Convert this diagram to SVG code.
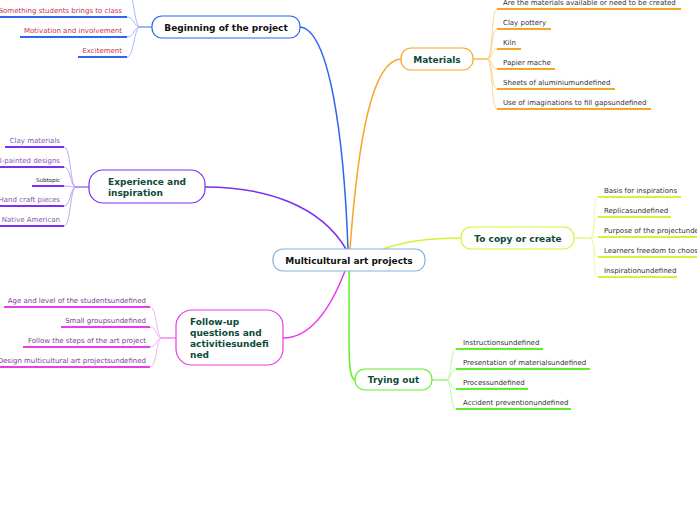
<svg xmlns="http://www.w3.org/2000/svg" width="697" height="520" viewBox="0 0 697 520">
<style>
.node{fill:#fff;stroke-width:1.2}
.lbl{font-family:"DejaVu Sans",Verdana,sans-serif;font-weight:bold;font-size:9px;fill:#0d4a3a}
.sub{font-family:"DejaVu Sans",Verdana,sans-serif;font-size:7px}
.ul{stroke-width:2;fill:none}
.br{stroke-width:0.8;fill:none}
.main{fill:none;stroke-width:1.5}
</style>
<rect width="697" height="520" fill="#fff"/>
<g id="connectors">
<path class="main" stroke="#2f66f0" d="M348 249 C344 140 330 30 300 27"/>
<path class="main" stroke="#f7a428" d="M350 249 C358 140 372 60 401 59"/>
<path class="main" stroke="#7a2ff5" d="M346 249 C320 205 265 187 205 187"/>
<path class="main" stroke="#d2f33a" d="M383 249 C405 241 430 238 461 238"/>
<path class="main" stroke="#e83de8" d="M345 271 C330 310 310 338 283 338"/>
<path class="main" stroke="#5ff02a" d="M349 271 C350 330 346 378 355 380"/>
</g>
<g id="central">
<rect class="node" x="273" y="249" width="152" height="22" rx="10" stroke="#7eb4e2"/>
<text class="lbl" x="349" y="263.5" text-anchor="middle" fill="#111" style="fill:#111">Multicultural art projects</text>
</g>
<g id="beginning">
<g stroke="#2f66f0">
<path class="br" stroke="#8eaaf7" d="M152 27 H140 C134 27 134 -10 127 -14"/>
<path class="br" stroke="#8eaaf7" d="M152 27 H140 C134 27 134 17 127 17"/>
<path class="br" stroke="#8eaaf7" d="M152 27 H140 C134 27 134 37 127 37"/>
<path class="br" stroke="#8eaaf7" d="M152 27 H140 C134 27 134 57 127 57"/>
<line class="ul" x1="0" y1="17" x2="127" y2="17"/>
<line class="ul" x1="20" y1="37" x2="127" y2="37"/>
<line class="ul" x1="78" y1="57" x2="127" y2="57"/>
</g>
<g class="sub" fill="#c8324c" text-anchor="end">
<text x="122" y="13">Something students brings to class</text>
<text x="122" y="33">Motivation and involvement</text>
<text x="122" y="53">Excitement</text>
</g>
<rect class="node" x="152" y="16" width="148" height="22" rx="10" stroke="#2f66f0"/>
<text class="lbl" x="226" y="30.5" text-anchor="middle" style="fill:#111">Beginning of the project</text>
</g>
<g id="materials">
<g stroke="#f7a428">
<path class="br" stroke="#fbc97a" d="M473 59 H487 C493 59 491 9 497 9"/>
<path class="br" stroke="#fbc97a" d="M473 59 H487 C493 59 491 29 497 29"/>
<path class="br" stroke="#fbc97a" d="M473 59 H487 C493 59 491 49 497 49"/>
<path class="br" stroke="#fbc97a" d="M473 59 H487 C493 59 491 69 497 69"/>
<path class="br" stroke="#fbc97a" d="M473 59 H487 C493 59 491 89 497 89"/>
<path class="br" stroke="#fbc97a" d="M473 59 H487 C493 59 491 109 497 109"/>
<line class="ul" x1="497" y1="9" x2="681" y2="9"/>
<line class="ul" x1="497" y1="29" x2="551" y2="29"/>
<line class="ul" x1="497" y1="49" x2="521" y2="49"/>
<line class="ul" x1="497" y1="69" x2="555" y2="69"/>
<line class="ul" x1="497" y1="89" x2="615" y2="89"/>
<line class="ul" x1="497" y1="109" x2="651" y2="109"/>
</g>
<g class="sub" fill="#333">
<text x="503" y="5">Are the materials available or need to be created</text>
<text x="503" y="25">Clay pottery</text>
<text x="503" y="45">Kiln</text>
<text x="503" y="65">Papier mache</text>
<text x="503" y="85">Sheets of aluminiumundefined</text>
<text x="503" y="105">Use of imaginations to fill gapsundefined</text>
</g>
<rect class="node" x="401" y="48" width="72" height="22" rx="10" stroke="#f7a428"/>
<text class="lbl" x="437" y="62.5" text-anchor="middle">Materials</text>
</g>
<g id="copy">
<g stroke="#d2f33a">
<path class="br" stroke="#e6f99a" d="M574 238 H590 C596 238 592 197 598 197"/>
<path class="br" stroke="#e6f99a" d="M574 238 H590 C596 238 592 217 598 217"/>
<path class="br" stroke="#e6f99a" d="M574 238 H590 C596 238 592 237 598 237"/>
<path class="br" stroke="#e6f99a" d="M574 238 H590 C596 238 592 257 598 257"/>
<path class="br" stroke="#e6f99a" d="M574 238 H590 C596 238 592 277 598 277"/>
<line class="ul" x1="598" y1="197" x2="681" y2="197"/>
<line class="ul" x1="598" y1="217" x2="671" y2="217"/>
<line class="ul" x1="598" y1="237" x2="697" y2="237"/>
<line class="ul" x1="598" y1="257" x2="697" y2="257"/>
<line class="ul" x1="598" y1="277" x2="677" y2="277"/>
</g>
<g class="sub" fill="#333">
<text x="604" y="193">Basis for inspirations</text>
<text x="604" y="213">Replicasundefined</text>
<text x="604" y="233">Purpose of the projectundefined</text>
<text x="604" y="253">Learners freedom to choose</text>
<text x="604" y="273">Inspirationundefined</text>
</g>
<rect class="node" x="461" y="227" width="113" height="22" rx="10" stroke="#d2f33a"/>
<text class="lbl" x="518" y="241.5" text-anchor="middle">To copy or create</text>
</g>
<g id="experience">
<g stroke="#7a2ff5">
<path class="br" stroke="#b08ef8" d="M89 187 H76 C70 187 71 147 64 147"/>
<path class="br" stroke="#b08ef8" d="M89 187 H76 C70 187 71 167 64 167"/>
<path class="br" stroke="#b08ef8" d="M89 187 H76 C70 187 71 186 64 186"/>
<path class="br" stroke="#b08ef8" d="M89 187 H76 C70 187 71 206 64 206"/>
<path class="br" stroke="#b08ef8" d="M89 187 H76 C70 187 71 226 64 226"/>
<line class="ul" x1="5" y1="147" x2="64" y2="147"/>
<line class="ul" x1="0" y1="167" x2="64" y2="167"/>
<line class="ul" x1="32" y1="186" x2="64" y2="186"/>
<line class="ul" x1="0" y1="206" x2="64" y2="206"/>
<line class="ul" x1="0" y1="226" x2="64" y2="226"/>
</g>
<g class="sub" fill="#8059b0" text-anchor="end">
<text x="60" y="143">Clay materials</text>
<text x="60" y="163">Well-painted designs</text>
<text x="60" y="182" style="font-size:5.5px;fill:#222">Subtopic</text>
<text x="60" y="202">Hand craft pieces</text>
<text x="60" y="222">Native American</text>
</g>
<rect class="node" x="89" y="170" width="116" height="33" rx="14" stroke="#7a2ff5"/>
<text class="lbl" x="108" y="185">Experience and</text>
<text class="lbl" x="108" y="196">inspiration</text>
</g>
<g id="followup">
<g stroke="#e83de8">
<path class="br" stroke="#f29af2" d="M176 338 H162 C156 338 157 307 150 307"/>
<path class="br" stroke="#f29af2" d="M176 338 H162 C156 338 157 327 150 327"/>
<path class="br" stroke="#f29af2" d="M176 338 H162 C156 338 157 347 150 347"/>
<path class="br" stroke="#f29af2" d="M176 338 H162 C156 338 157 367 150 367"/>
<line class="ul" x1="4" y1="307" x2="150" y2="307"/>
<line class="ul" x1="61" y1="327" x2="150" y2="327"/>
<line class="ul" x1="23" y1="347" x2="150" y2="347"/>
<line class="ul" x1="0" y1="367" x2="150" y2="367"/>
</g>
<g class="sub" fill="#7a3d92" text-anchor="end">
<text x="146" y="303">Age and level of the studentsundefined</text>
<text x="146" y="323">Small groupsundefined</text>
<text x="146" y="343">Follow the steps of the art project</text>
<text x="146" y="363">Design multicultural art projectsundefined</text>
</g>
<rect class="node" x="176" y="310" width="107" height="55" rx="16" stroke="#e83de8"/>
<text class="lbl" x="190" y="325">Follow-up</text>
<text class="lbl" x="190" y="336">questions and</text>
<text class="lbl" x="190" y="347">activitiesundefi</text>
<text class="lbl" x="190" y="358">ned</text>
</g>
<g id="trying">
<g stroke="#5ff02a">
<path class="br" stroke="#a9f58e" d="M432 380 H446 C452 380 450 349 456 349"/>
<path class="br" stroke="#a9f58e" d="M432 380 H446 C452 380 450 369 456 369"/>
<path class="br" stroke="#a9f58e" d="M432 380 H446 C452 380 450 389 456 389"/>
<path class="br" stroke="#a9f58e" d="M432 380 H446 C452 380 450 409 456 409"/>
<line class="ul" x1="456" y1="349" x2="543" y2="349"/>
<line class="ul" x1="456" y1="369" x2="590" y2="369"/>
<line class="ul" x1="456" y1="389" x2="528" y2="389"/>
<line class="ul" x1="456" y1="409" x2="571" y2="409"/>
</g>
<g class="sub" fill="#333">
<text x="463" y="345">Instructionsundefined</text>
<text x="463" y="365">Presentation of materialsundefined</text>
<text x="463" y="385">Processundefined</text>
<text x="463" y="405">Accident preventionundefined</text>
</g>
<rect class="node" x="355" y="369" width="77" height="21" rx="10" stroke="#5ff02a"/>
<text class="lbl" x="393.5" y="383" text-anchor="middle">Trying out</text>
</g>
</svg>
